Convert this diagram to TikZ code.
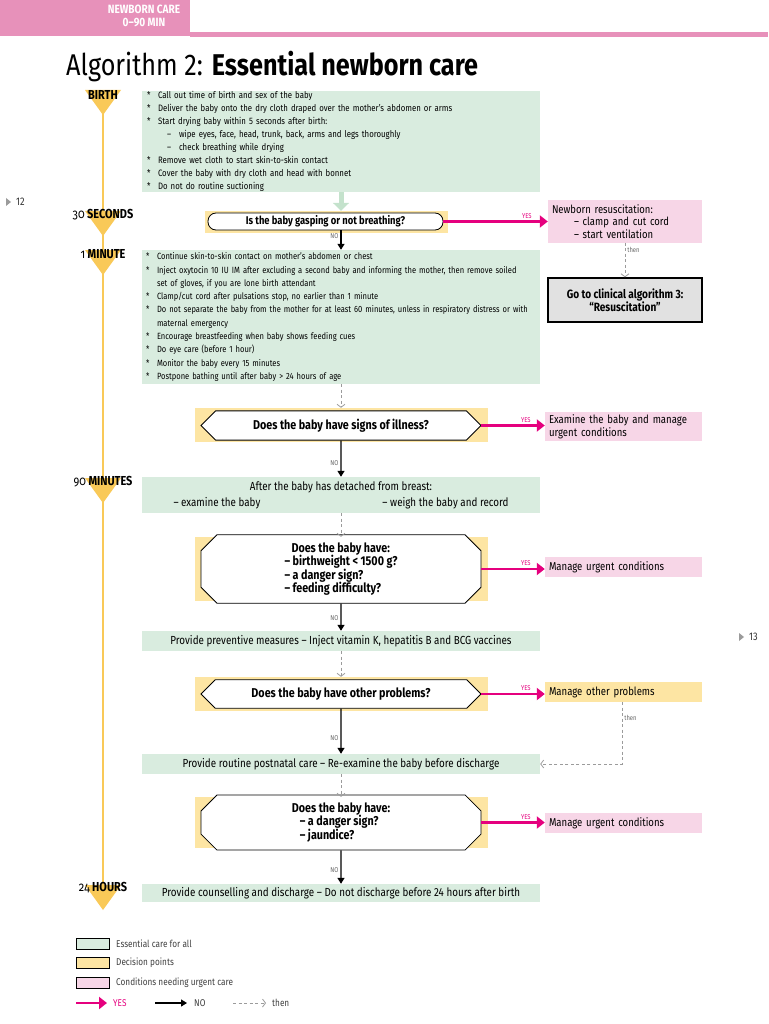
\documentclass[tikz,border=0pt]{standalone}
\usepackage{fontspec}
\setmainfont{Fira Sans}[FakeStretch=0.84]
\usetikzlibrary{shapes.misc,arrows.meta}
\definecolor{carebg}{RGB}{217,236,223}
\definecolor{decibg}{RGB}{253,229,163}
\definecolor{urgbg}{RGB}{247,214,231}
\definecolor{timeyel}{RGB}{249,201,88}
\definecolor{yesmag}{RGB}{229,0,126}
\definecolor{headpink}{RGB}{231,145,186}
\definecolor{thengray}{RGB}{155,155,155}
\definecolor{arrgreen}{RGB}{196,226,204}
\definecolor{gotogray}{RGB}{225,225,225}
\newcommand{\bul}{\makebox[11pt][l]{*}}
\newcommand{\subl}{\hspace*{20pt}\makebox[12pt][l]{–}}
\newcommand{\fs}[2]{\fontsize{#1}{#2}\selectfont}
\newcommand{\onum}[1]{{\mdseries\addfontfeatures{Numbers=OldStyle}#1}}

\begin{document}
\begin{tikzpicture}[x=1pt, y=-1pt, align=center]
\tikzstyle{care} = [fill=carebg, inner sep=0pt, minimum width=398, font=\fs{11.7}{13}]
\tikzstyle{decbg} = [fill=decibg, inner sep=0pt, minimum width=293]
\tikzstyle{decq} = [chamfered rectangle, chamfered rectangle xsep=8pt, chamfered rectangle ysep=8pt,
  draw=black, line width=0.8, fill=white, inner sep=0pt, minimum width=280, font=\bfseries\fs{12.8}{13.3}]
\tikzstyle{urgent} = [fill=urgbg, inner xsep=4pt, inner ysep=0pt, minimum width=157, text width=149,
  align=left, font=\fs{11.4}{13}]
\tikzstyle{tlab} = [font=\bfseries\fs{13}{14}, inner sep=0pt]
\tikzstyle{yesto} = [draw=yesmag, line width=2.8, -{Triangle[length=8pt,width=12pt]}]
\tikzstyle{noto} = [draw=black, line width=1.3, -{Triangle[length=6pt,width=7pt]}]
\tikzstyle{thento} = [draw=thengray, line width=0.8, dash pattern=on 3pt off 2.5pt,
  -{Straight Barb[length=3pt,width=8pt]}]
\tikzstyle{greento} = [draw=arrgreen, line width=5, -{Triangle[length=8pt,width=16pt]}]
\tikzstyle{yeslab} = [above=2pt, font=\fs{7}{8}, text=yesmag, inner sep=0pt]
\tikzstyle{nolab} = [left=2pt, font=\fs{7}{8}, text=black!60, inner sep=0pt]
\tikzstyle{thenlab} = [right=2pt, font=\fs{7}{8}, text=black!60, inner sep=0pt]
\tikzstyle{legbox} = [draw=black, line width=0.8, minimum width=33, minimum height=11, inner sep=0pt]
\tikzstyle{legtxt} = [anchor=west, font=\fs{9.8}{11}, text=black!75, inner sep=1pt]

\useasboundingbox (0,0) rectangle (768,1024);

% header and title
\fill[headpink] (0,0) rectangle (190,36);
\fill[headpink] (190,32) rectangle (768,37);
\node[font=\bfseries\fs{12}{12.5}, text=white] (tab) at (144,16) {NEWBORN CARE\\0–90 MIN};
\node[anchor=base west, font=\fs{30}{36}, inner sep=0pt] (title) at (66,76)
  {Algorithm 2: \textbf{Essential newborn care}};

% page references
\fill[thengray] (6,198) -- (11,202) -- (6,206) -- cycle;
\node[anchor=west, font=\fs{11}{12}, text=black!80, inner sep=0pt] (p12) at (16,202) {12};
\fill[thengray] (739,633) -- (744,637) -- (739,641) -- cycle;
\node[anchor=west, font=\fs{11}{12}, text=black!80, inner sep=0pt] (p13) at (749,637) {13};

% time line
\draw[timeyel, line width=2] (103,100) -- (103,895);
\foreach \ty in {90,211,250,478,885}
  \fill[timeyel] (85,\ty) -- (121,\ty) -- (103,\ty+25) -- cycle;
\node[tlab] (tbirth) at (103,95) {BIRTH};
\node[tlab] (tsec) at (103,215) {\onum{30} SECONDS};
\node[tlab] (tmin) at (103,254) {\onum{1} MINUTE};
\node[tlab] (tninety) at (103,482) {\onum{90} MINUTES};
\node[tlab] (thours) at (103,888) {\onum{24} HOURS};

% boxes
\node[care, text width=388, inner xsep=5pt, minimum height=101, align=left, font=\fs{9.3}{12.9}]
  (birthcare) at (341,141.5) {\bul Call out time of birth and sex of the baby\\
  \bul Deliver the baby onto the dry cloth draped over the mother’s abdomen or arms\\
  \bul Start drying baby within 5 seconds after birth:\\
  \subl wipe eyes, face, head, trunk, back, arms and legs thoroughly\\
  \subl check breathing while drying\\
  \bul Remove wet cloth to start skin-to-skin contact\\
  \bul Cover the baby with dry cloth and head with bonnet\\
  \bul Do not do routine suctioning};

\node[decbg, minimum width=243, minimum height=22] (gaspbg) at (326.5,222) {};
\node[draw=black, line width=0.8, fill=white, rounded corners=8pt, minimum width=235, minimum height=17,
  inner sep=0pt, font=\bfseries\fs{11.2}{12}] (gasp) at (325.5,221.5) {Is the baby gasping or not breathing?};
\node[urgent, minimum width=154, text width=146, minimum height=42, font=\fs{11.3}{12.5}] (resus) at (625,221.5)
  {Newborn resuscitation:\\\hspace*{22pt}– clamp and cut cord\\\hspace*{22pt}– start ventilation};
\node[draw=black, line width=1.4, fill=gotogray, minimum width=154, minimum height=44, inner sep=0pt,
  font=\bfseries\fs{12}{13}] (goto) at (625,300) {Go to clinical algorithm 3:\\“Resuscitation”};

\node[care, text width=390, inner xsep=4pt, minimum height=134, align=left, font=\fs{9}{13.3}]
  (onecare) at (341,317) {\bul Continue skin-to-skin contact on mother’s abdomen or chest\\
  \bul Inject oxytocin 10 IU IM after excluding a second baby and informing the mother, then remove soiled\\
  \hspace*{11pt}set of gloves, if you are lone birth attendant\\
  \bul Clamp/cut cord after pulsations stop, no earlier than 1 minute\\
  \bul Do not separate the baby from the mother for at least 60 minutes, unless in respiratory distress or with\\
  \hspace*{11pt}maternal emergency\\
  \bul Encourage breastfeeding when baby shows feeding cues\\
  \bul Do eye care (before 1 hour)\\
  \bul Monitor the baby every 15 minutes\\
  \bul Postpone bathing until after baby > 24 hours of age};

\node[decbg, minimum height=34] (illbg) at (341,425) {};
\node[decq, minimum height=29] (ill) at (341,425.5) {Does the baby have signs of illness?};
\node[urgent, minimum height=29] (illyes) at (623.5,426.5) {Examine the baby and manage\\urgent conditions};

\node[care, minimum height=36, font=\fs{11.7}{16}] (detach) at (341,495)
  {After the baby has detached from breast:\\
  \makebox[335pt]{– examine the baby\hfill– weigh the baby and record}};

\node[decbg, minimum height=64] (weighbg) at (341,569) {};
\node[decq, minimum height=58, align=left] (weigh) at (341,569) {\hspace*{7pt}Does the baby have:\\
  – birthweight < 1500 g?\\– a danger sign?\\– feeding difficulty?};
\node[urgent, minimum height=20] (weighyes) at (623.5,567) {Manage urgent conditions};

\node[care, minimum height=20] (prevent) at (341,641)
  {Provide preventive measures – Inject vitamin K, hepatitis B and BCG vaccines};

\node[decbg, minimum height=34] (otherbg) at (341,694) {};
\node[decq, minimum height=28] (other) at (341,694) {Does the baby have other problems?};
\node[urgent, fill=decibg, minimum height=20] (otheryes) at (623.5,692) {Manage other problems};

\node[care, minimum height=20] (routine) at (341,764)
  {Provide routine postnatal care – Re-examine the baby before discharge};

\node[decbg, minimum height=51] (dangerbg) at (341,822.5) {};
\node[decq, minimum height=45, align=left] (danger) at (341,822.5) {Does the baby have:\\
  \hspace*{8pt}– a danger sign?\\\hspace*{8pt}– jaundice?};
\node[urgent, minimum height=20] (dangeryes) at (623.5,823) {Manage urgent conditions};

\node[care, minimum height=18] (discharge) at (341,893)
  {Provide counselling and discharge – Do not discharge before 24 hours after birth};

% connectors
\draw[greento] (birthcare.south) -- (birthcare.south |- gaspbg.north);
\draw[noto] (birthcare.south |- gasp.south) -- (onecare.north) node[nolab, pos=0.3] {NO};
\draw[yesto] (gasp.east) -- (gasp.east -| resus.west) node[yeslab, pos=0.8] {YES};
\draw[thento] (resus) -- (goto) node[thenlab, pos=0.2] {then};
\draw[thento] (onecare) -- (illbg);
\draw[noto] (ill) -- (detach) node[nolab, pos=0.63] {NO};
\draw[yesto] (ill.east) -- (ill.east -| illyes.west) node[yeslab, pos=0.7] {YES};
\draw[thento] (detach) -- (weighbg);
\draw[noto] (weigh) -- (prevent) node[nolab, pos=0.53] {NO};
\draw[yesto] (weigh.east) -- (weigh.east -| weighyes.west) node[yeslab, pos=0.7] {YES};
\draw[thento] (prevent) -- (otherbg);
\draw[noto] (other) -- (routine) node[nolab, pos=0.65] {NO};
\draw[yesto] (other.east) -- (other.east -| otheryes.west) node[yeslab, pos=0.7] {YES};
\draw[thento] ([xshift=-1.5pt]otheryes.south) |- (routine.east) node[thenlab, pos=0.13] {then};
\draw[thento] (routine) -- (dangerbg);
\draw[noto] (danger) -- (discharge) node[nolab, pos=0.58] {NO};
\draw[yesto] (danger.east) -- (danger.east -| dangeryes.west) node[yeslab, pos=0.7] {YES};

% legend
\node[legbox, fill=carebg] (lcare) at (92.5,943.5) {};
\node[legtxt] (lcaretxt) at (115,943.5) {Essential care for all};
\node[legbox, fill=decibg] (ldeci) at (92.5,962.5) {};
\node[legtxt] (ldecitxt) at (115,962.5) {Decision points};
\node[legbox, fill=urgbg] (lurg) at (92.5,982.5) {};
\node[legtxt] (lurgtxt) at (115,982.5) {Conditions needing urgent care};
\coordinate (lyes) at (76,1003);
\coordinate (lyesend) at (107,1003);
\node[legtxt, text=yesmag] (lyestxt) at (112,1003) {YES};
\draw[yesto] (lyes) -- (lyesend);
\coordinate (lno) at (155,1003);
\coordinate (lnoend) at (187,1003);
\node[legtxt] (lnotxt) at (193,1003) {NO};
\draw[noto] (lno) -- (lnoend);
\coordinate (lthen) at (233,1003);
\coordinate (lthenend) at (266,1003);
\node[legtxt] (lthentxt) at (271,1003) {then};
\draw[thento] (lthen) -- (lthenend);
\end{tikzpicture}
\end{document}
